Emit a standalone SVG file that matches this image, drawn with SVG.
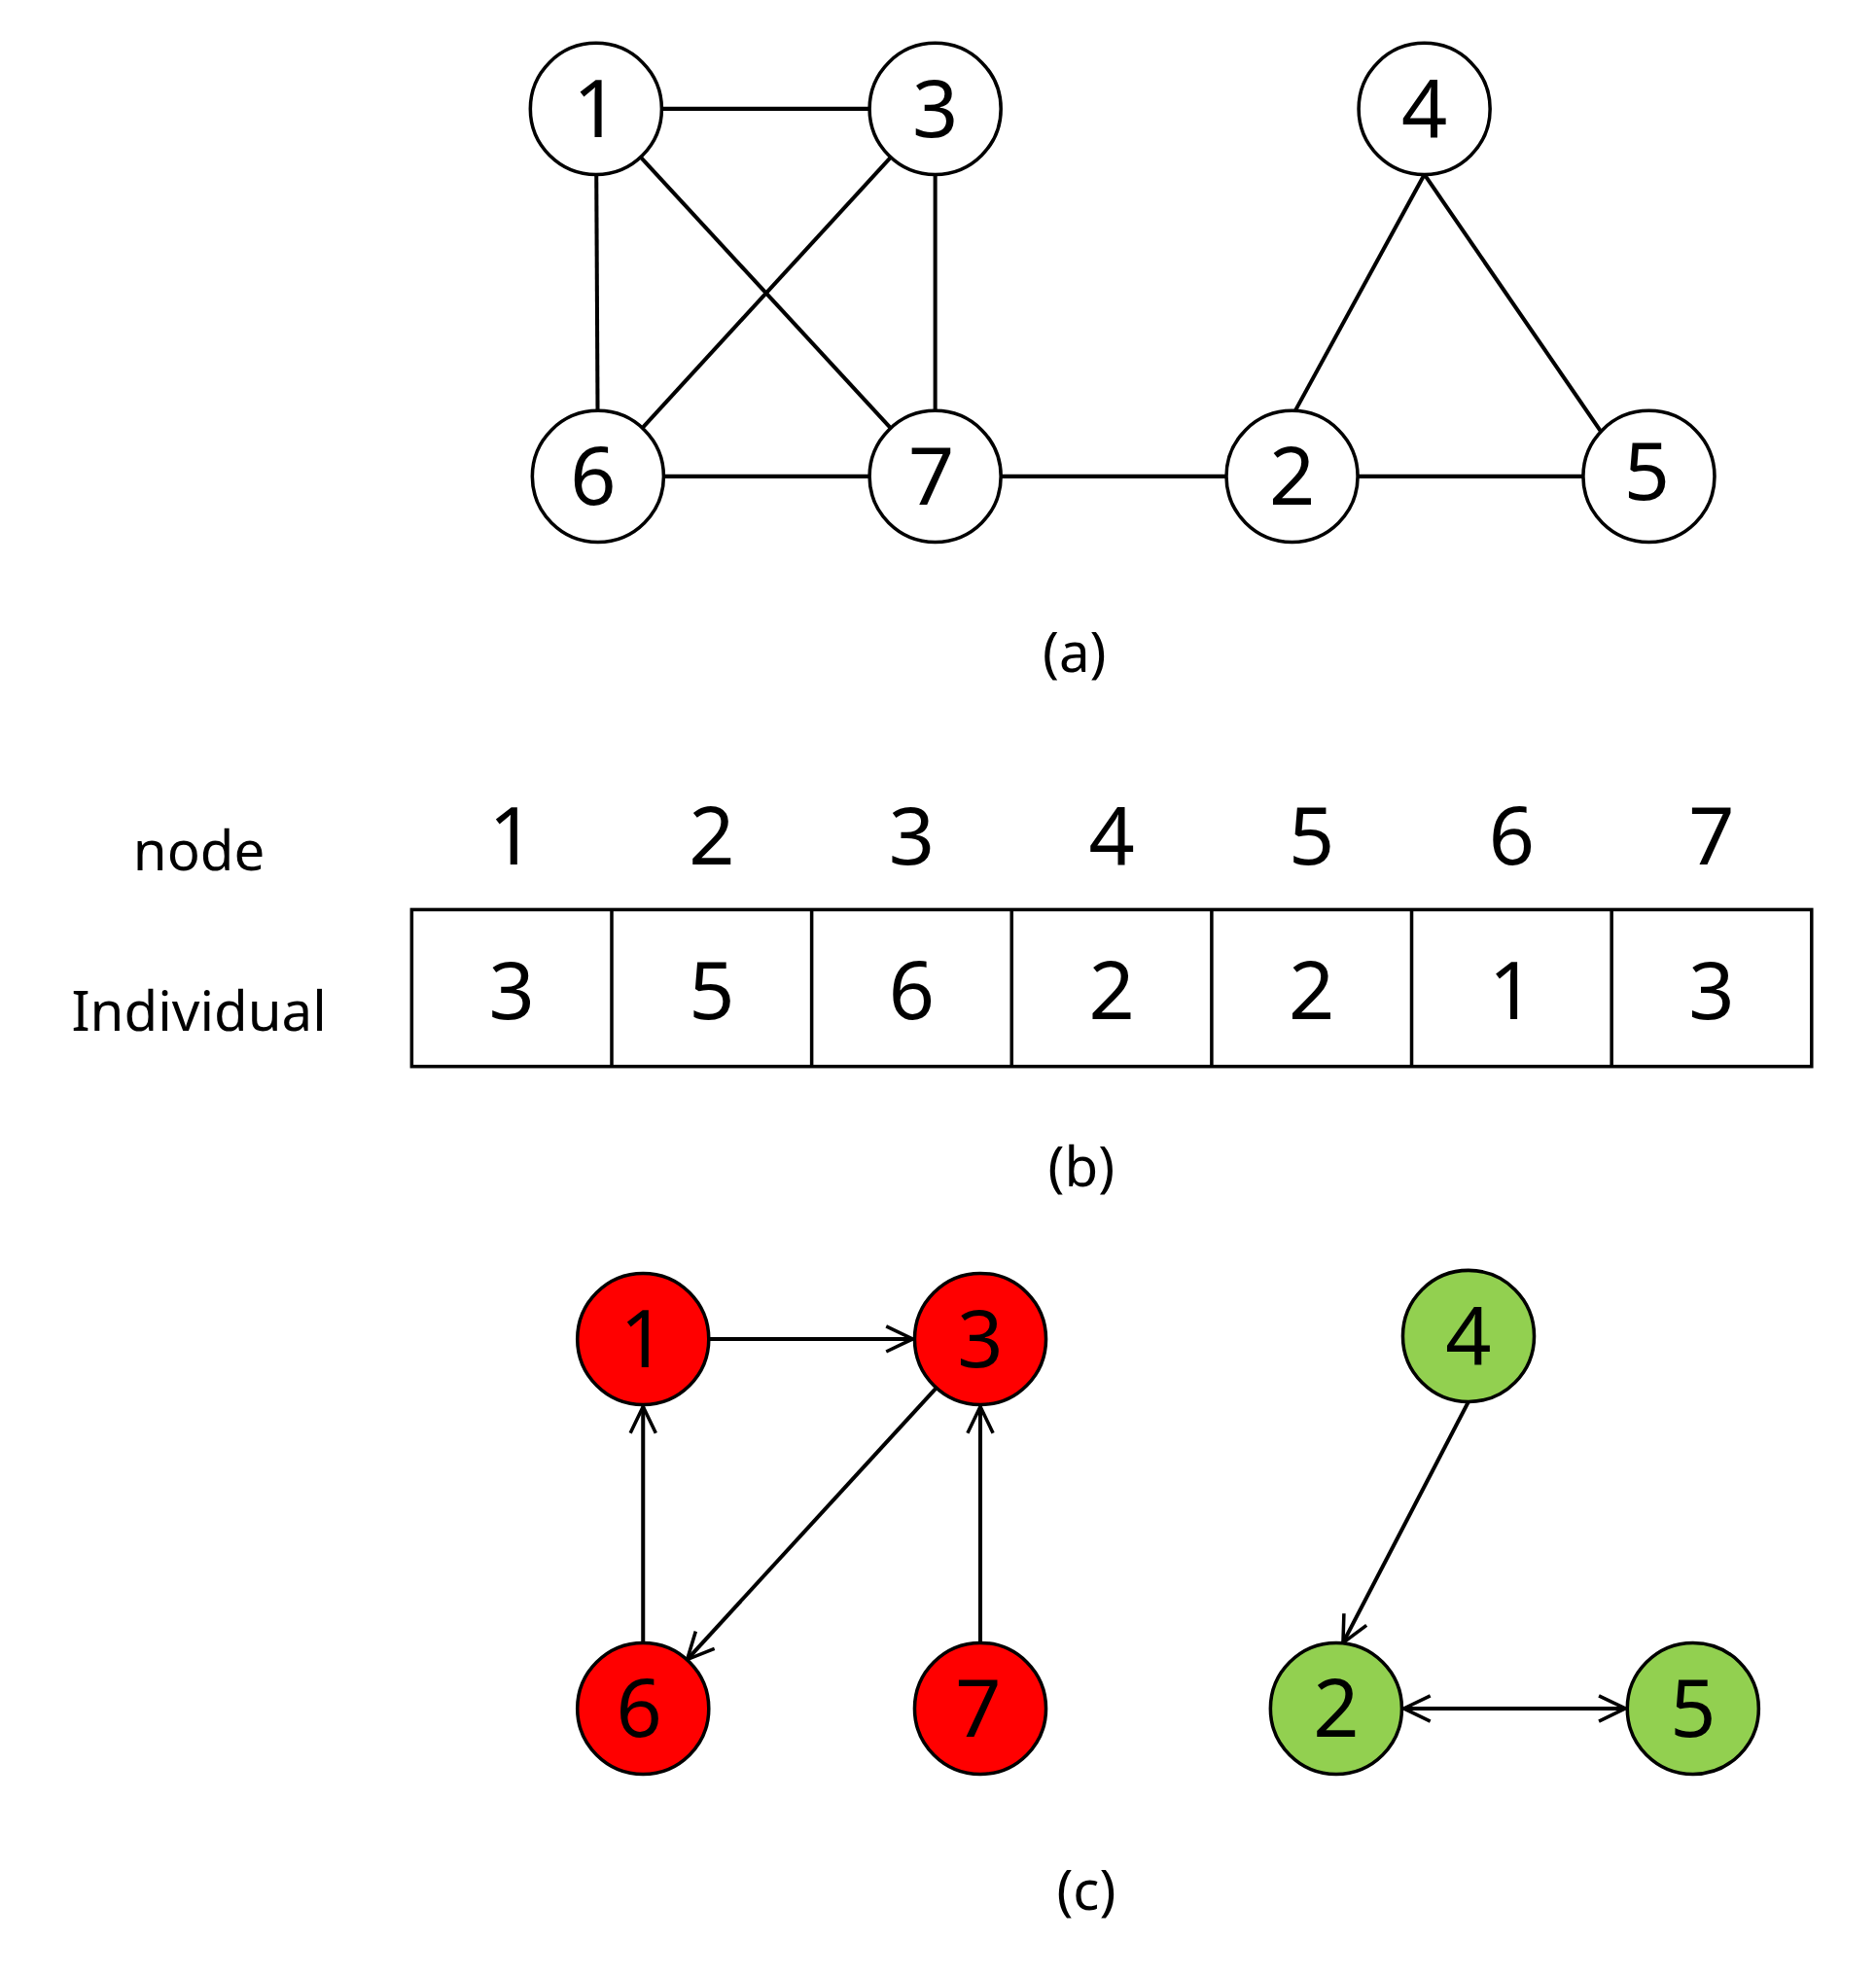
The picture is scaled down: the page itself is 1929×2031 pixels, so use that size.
<svg xmlns="http://www.w3.org/2000/svg" width="1929" height="2031" viewBox="0 0 1929 2031">
<defs>
<style>
.n circle{stroke:#000;stroke-width:3.5}
.w circle{fill:#fff}
.r circle{fill:#ff0000}
.g circle{fill:#92d050}
text{font-family:"Noto Sans","DejaVu Sans",sans-serif;text-anchor:middle;fill:#000}
.d{font-size:82px}
.lab{font-size:56px}
.e line{stroke:#000;stroke-width:4}
</style>
<marker id="ah" viewBox="0 0 32 32" refX="30" refY="16" markerWidth="32" markerHeight="32" markerUnits="userSpaceOnUse" orient="auto-start-reverse">
<path d="M3,3 L30,16 L3,29" fill="none" stroke="#000" stroke-width="3.5"/>
</marker>
</defs>
<rect width="1929" height="2031" fill="#fff"/>
<g transform="scale(1.008)">
<g id="edges-a" class="e">
<line x1="608" y1="111" x2="954" y2="111"/>
<line x1="608" y1="111" x2="610" y2="486"/>
<line x1="608" y1="111" x2="954" y2="486"/>
<line x1="954" y1="111" x2="610" y2="486"/>
<line x1="954" y1="111" x2="954" y2="486"/>
<line x1="610" y1="486" x2="954" y2="486"/>
<line x1="954" y1="486" x2="1318" y2="486"/>
<line x1="1453" y1="178" x2="1318" y2="425"/>
<line x1="1453" y1="178" x2="1633" y2="440"/>
<line x1="1318" y1="486" x2="1682" y2="486"/>
</g>
<g id="a1" class="n w"><circle cx="608" cy="111" r="67"/><text class="d" x="608" y="140">1</text></g>
<g id="a3" class="n w"><circle cx="954" cy="111" r="67"/><text class="d" x="954" y="140">3</text></g>
<g id="a4" class="n w"><circle cx="1453" cy="111" r="67"/><text class="d" x="1453" y="140">4</text></g>
<g id="a6" class="n w"><circle cx="610" cy="486" r="67"/><text class="d" x="605" y="515">6</text></g>
<g id="a7" class="n w"><circle cx="954" cy="486" r="67"/><text class="d" x="950" y="515">7</text></g>
<g id="a2" class="n w"><circle cx="1318" cy="486" r="67"/><text class="d" x="1318" y="515">2</text></g>
<g id="a5" class="n w"><circle cx="1682" cy="486" r="67"/><text class="d" x="1680" y="510">5</text></g>
<text class="lab" x="1096" y="686">(a)</text>

<g id="table">
<text class="lab" x="203" y="888">node</text>
<text class="lab" x="203" y="1052">Individual</text>
<rect x="420" y="928" width="1428" height="160" fill="none" stroke="#000" stroke-width="3.5"/>
<g stroke="#000" stroke-width="3.5">
<line x1="624" y1="928" x2="624" y2="1088"/><line x1="828" y1="928" x2="828" y2="1088"/>
<line x1="1032" y1="928" x2="1032" y2="1088"/><line x1="1236" y1="928" x2="1236" y2="1088"/>
<line x1="1440" y1="928" x2="1440" y2="1088"/><line x1="1644" y1="928" x2="1644" y2="1088"/>
</g>
<g class="d">
<text x="522" y="882">1</text><text x="726" y="882">2</text><text x="930" y="882">3</text><text x="1134" y="882">4</text><text x="1338" y="882">5</text><text x="1542" y="882">6</text><text x="1746" y="882">7</text>
<text x="522" y="1040">3</text><text x="726" y="1040">5</text><text x="930" y="1040">6</text><text x="1134" y="1040">2</text><text x="1338" y="1040">2</text><text x="1542" y="1040">1</text><text x="1746" y="1040">3</text>
</g>
</g>
<text class="lab" x="1103" y="1210">(b)</text>

<g id="edges-c" class="e">
<line x1="723" y1="1366" x2="931" y2="1366" marker-end="url(#ah)"/>
<line x1="955" y1="1416" x2="701" y2="1693" marker-end="url(#ah)"/>
<line x1="656" y1="1676" x2="656" y2="1435" marker-end="url(#ah)"/>
<line x1="1000" y1="1676" x2="1000" y2="1435" marker-end="url(#ah)"/>
<line x1="1498" y1="1430" x2="1370" y2="1676" marker-end="url(#ah)"/>
<line x1="1432" y1="1743" x2="1658" y2="1743" marker-start="url(#ah)" marker-end="url(#ah)"/>
</g>
<g id="c1" class="n r"><circle cx="656" cy="1366" r="67"/><text class="d" x="656" y="1395">1</text></g>
<g id="c3" class="n r"><circle cx="1000" cy="1366" r="67"/><text class="d" x="1000" y="1395">3</text></g>
<g id="c4" class="n g"><circle cx="1498" cy="1363" r="67"/><text class="d" x="1498" y="1392">4</text></g>
<g id="c6" class="n r"><circle cx="656" cy="1743" r="67"/><text class="d" x="652" y="1772">6</text></g>
<g id="c7" class="n r"><circle cx="1000" cy="1743" r="67"/><text class="d" x="998" y="1772">7</text></g>
<g id="c2" class="n g"><circle cx="1363" cy="1743" r="67"/><text class="d" x="1363" y="1772">2</text></g>
<g id="c5" class="n g"><circle cx="1727" cy="1743" r="67"/><text class="d" x="1727" y="1772">5</text></g>
<text class="lab" x="1108" y="1948">(c)</text>
</g>
</svg>
